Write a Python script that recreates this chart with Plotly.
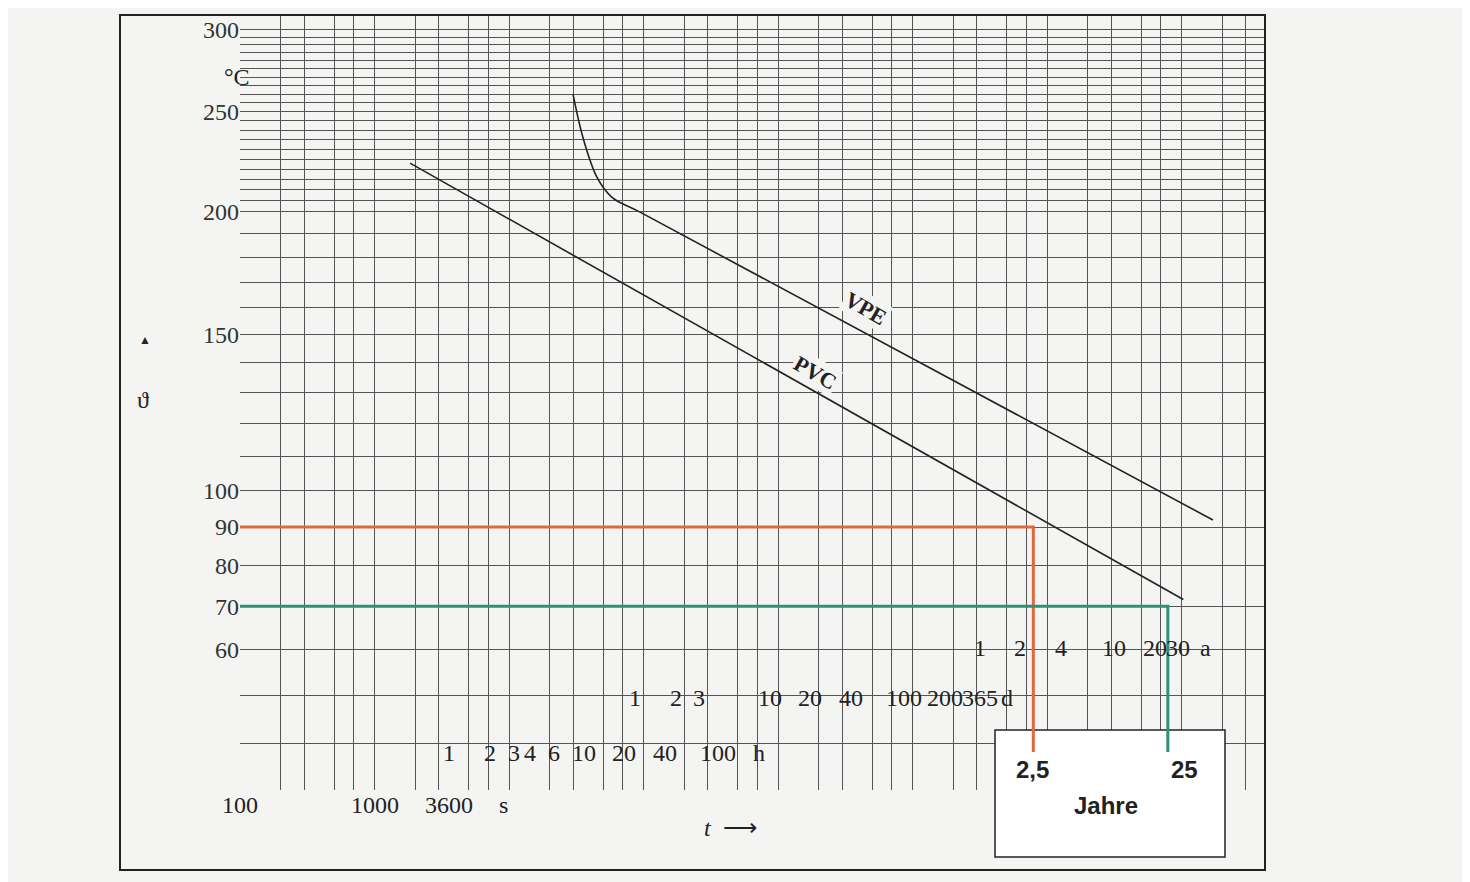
import plotly.graph_objects as go
import numpy as np

# ---- data ----
pvc_t = [1837, 1.03e9]            # seconds
pvc_T = [223, 71.6]               # °C
vpe_t = [29900, 35500, 45100, 58300, 94200, 1.71e9]
vpe_T = [260, 236, 216, 206.5, 199.7, 91.9]
orange_t, orange_T = 7.9e7, 90    # 2,5 Jahre
green_t, green_T = 7.9e8, 70      # 25 Jahre
ytick_labels = [60, 70, 80, 90, 100, 150, 200, 250, 300]
sec_labels = [100, 1000, 3600]
hour_labels = [1, 2, 3, 4, 6, 10, 20, 40, 100]
day_labels = [1, 2, 3, 10, 20, 40, 100, 200, 365]
year_labels = [1, 2, 4, 10, 20, 30]

def yv(T):
    return 1000.0 / (np.asarray(T, dtype=float) + 273.15)

W, H = 1470, 882
OFF = 8  # page body margin
L, R, T, B = 240, 1265, 15, 790
XR = [2, 9.62]
def px(x): return (x - L) / (R - L)
def py(y): return (B - y) / (B - T)
def xpaper(t): return (np.log10(t) - XR[0]) / (XR[1] - XR[0])

fig = go.Figure()
line = dict(color="#222", width=1.6)
fig.add_trace(go.Scatter(x=pvc_t, y=yv(pvc_T), mode="lines", line=line))
fig.add_trace(go.Scatter(x=vpe_t, y=yv(vpe_T), mode="lines", line=dict(color="#222", width=1.6, shape="spline")))
OR, GR = "#e2683c", "#2f8f78"
fig.add_trace(go.Scatter(x=[100, orange_t, orange_t], y=yv([orange_T, orange_T, 38]), mode="lines", line=dict(color=OR, width=3)))
fig.add_trace(go.Scatter(x=[100, green_t, green_t], y=yv([green_T, green_T, 38]), mode="lines", line=dict(color=GR, width=3)))

gridT = list(range(40, 301, 10)) + [255, 265, 275, 285, 295, 205, 215, 225, 235, 245]
gridT = sorted(gridT)
ytext = [str(t) if t in ytick_labels else "" for t in gridT]
xg = [m * 10**k for k in range(2, 10) for m in (1, 2, 3, 5, 7) if m * 10**k <= 4.2e9]

serif = "Liberation Serif"
ann = []
def A(x, y, text, size=24, xref="x", yref="paper", **kw):
    ann.append(dict(x=x, y=y, text=text, xref=xref, yref=yref, showarrow=False,
                    font=dict(family=kw.pop("family", serif), size=size, color="#222"), **kw))

for v in sec_labels:
    A(np.log10(v), py(820), str(v))
A(np.log10(3600) + 0.4, py(820), "s")
for v in hour_labels:
    A(np.log10(v * 3600), py(768), str(v))
A(np.log10(100 * 3600) + 0.3, py(768), "h")
for v in day_labels:
    A(np.log10(v * 86400), py(713), str(v))
A(np.log10(365 * 86400) + 0.2, py(713), "d")
for v in year_labels:
    A(np.log10(v * 3.156e7), py(663), str(v))
A(np.log10(30 * 3.156e7) + 0.2, py(663), "a")
A(px(222), py(62), "°C", xref="paper")
A(px(135), py(400), "ϑ", xref="paper")
A(px(137), py(340), "▲", size=12, xref="paper")
A(px(730), py(843), "<i>t</i>  ⟶", xref="paper")
A(px(866), py(308), "<b>VPE</b>", size=22, xref="paper", textangle=30, bgcolor="#f4f4f2")
A(px(815), py(372), "<b>PVC</b>", size=22, xref="paper", textangle=30, bgcolor="#f4f4f2")
A(px(1051), py(785), "<b>2,5</b>", xref="paper", family="Liberation Sans")
A(px(1200), py(785), "<b>25</b>", xref="paper", family="Liberation Sans")
A(px(1140), py(821), "<b>Jahre</b>", xref="paper", family="Liberation Sans")

shapes = [
    dict(type="rect", xref="paper", yref="paper", x0=px(120), x1=px(1265), y0=py(870), y1=py(15),
         line=dict(color="#222", width=2)),
    dict(type="rect", xref="paper", yref="paper", x0=px(995), x1=px(1225), y0=py(857), y1=py(730),
         line=dict(color="#222", width=1.5), fillcolor="white", layer="above"),
    dict(type="line", xref="paper", yref="paper", x0=xpaper(orange_t), x1=xpaper(orange_t),
         y0=py(729), y1=py(752), line=dict(color=OR, width=3), layer="above"),
    dict(type="line", xref="paper", yref="paper", x0=xpaper(green_t), x1=xpaper(green_t),
         y0=py(729), y1=py(752), line=dict(color=GR, width=3), layer="above"),
]

fig.update_layout(
    width=W, height=H, margin=dict(l=L - OFF, r=W - R + OFF, t=T - OFF, b=H - B + OFF),
    paper_bgcolor="#f4f4f2", plot_bgcolor="#f4f4f2", showlegend=False,
    annotations=ann, shapes=shapes,
    xaxis=dict(type="log", range=XR, tickvals=xg, ticktext=[""] * len(xg),
               showgrid=True, gridcolor="#555", gridwidth=1, zeroline=False, showline=False),
    yaxis=dict(range=[3.287, 1.715], tickvals=yv(gridT), ticktext=ytext,
               tickfont=dict(family=serif, size=24, color="#333"),
               showgrid=True, gridcolor="#555", gridwidth=1, zeroline=False, showline=False, ticks=""),
)
fig.write_html("out.html")
